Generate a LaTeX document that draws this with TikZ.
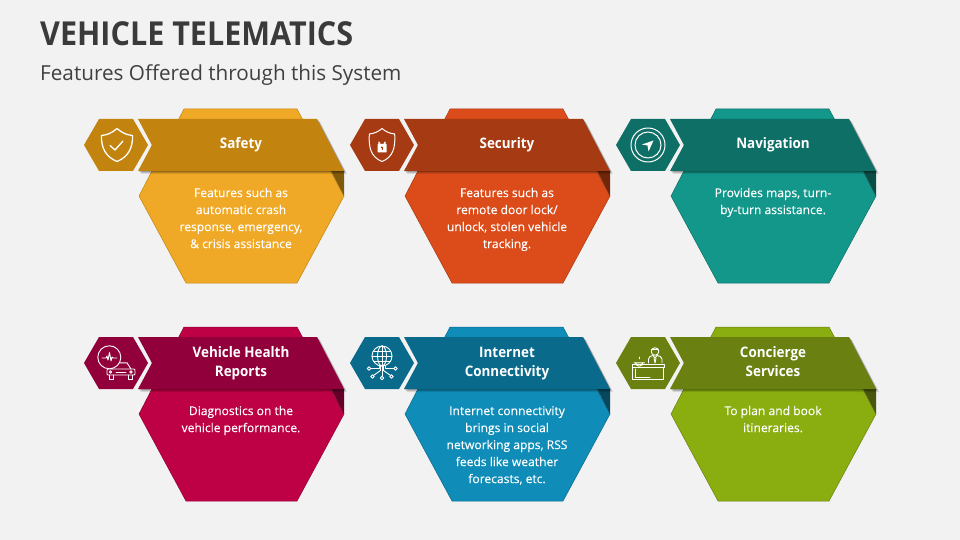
\documentclass[tikz,border=0pt]{standalone}
\usepackage{fontspec}
\setmainfont{Open Sans}
\newfontfamily\headfont[FakeStretch=.925]{Open Sans}
\newfontfamily\cardfont[FakeBold=.15]{Open Sans}
\definecolor{pagebg}{HTML}{F2F2F2}
\definecolor{ink}{HTML}{404040}
\definecolor{inkb}{HTML}{3A3A3A}
\definecolor{la}{HTML}{EFA926}\definecolor{da}{HTML}{C2830F}\definecolor{fa}{HTML}{7F5A0B}
\definecolor{lb}{HTML}{DC4C1A}\definecolor{db}{HTML}{A63A13}\definecolor{fb}{HTML}{702709}
\definecolor{lc}{HTML}{12978A}\definecolor{dc}{HTML}{0E6F66}\definecolor{fc}{HTML}{0A4C46}
\definecolor{ld}{HTML}{BE0044}\definecolor{dd}{HTML}{91003A}\definecolor{fd}{HTML}{630028}
\definecolor{le}{HTML}{0F8DB8}\definecolor{de}{HTML}{0A6A8B}\definecolor{fe}{HTML}{07485F}
\definecolor{lf}{HTML}{8AAE10}\definecolor{df}{HTML}{6A8010}\definecolor{ff}{HTML}{48570B}
\tikzset{
  titletext/.style={text=white,align=center,font=\headfont\fontsize{14.5}{19}\selectfont\bfseries,inner sep=0pt},
  bodytext/.style={text=white,align=center,anchor=north,font=\cardfont\fontsize{12.1}{17}\selectfont,inner sep=0pt},
  iconline/.style={draw=white,line width=1.3pt,line join=round,line cap=round,fill=none},
  thinline/.style={draw=white,line width=.9pt,line join=round,line cap=round,fill=none}
}
% #1 dx, #2 dy, #3 light, #4 dark, #5 fold, #6 name, #7 title, #8 body
\newcommand{\vcard}[8]{%
\begin{scope}[shift={(#1,#2)}]
  \filldraw[fill=#3,draw=#4,line width=.5pt,line join=round]
    (184,109)--(297,109)--(344,196)--(297,283)--(186,283)--(139,196)--cycle;
  \fill[#5] (331,171)--(344,171)--(344,196)--cycle;
  \foreach \s/\o in {3/.10,2/.14,1/.18}{
    \fill[black,opacity=\o] (138+\s,119+\s)--(317+\s,119+\s)--(344+\s,171+\s)--(138+\s,171+\s)--(152,145)--cycle;
  }
  \fill[#4] (138,119)--(317,119)--(344,171)--(138,171)--(152,145)--cycle;
  \fill[#4] (84,145)--(99,119)--(133,119)--(148,145)--(133,171)--(99,171)--cycle;
  \node[titletext] (#6title) at (241,145.2) {#7};
  \node[bodytext] (#6body) at (241,185) {\strut #8};
\end{scope}}
\begin{document}
\begin{tikzpicture}[x=1pt,y=-1pt]
\useasboundingbox (0,0) rectangle (960,540);
\fill[pagebg] (0,0) rectangle (960,540);
\node[anchor=base west,inner sep=0pt,text=inkb,font=\headfont\fontsize{33}{38}\selectfont\bfseries] (maintitle) at (40,46) {VEHICLE TELEMATICS};
\node[anchor=base west,inner sep=0pt,text=ink,font=\fontsize{20.7}{25}\selectfont] (subtitle) at (40,81) {Features Offered through this System};

\vcard{0}{0}{la}{da}{fa}{safety}{\strut Safety\strut}{Features such as\\automatic crash\\response, emergency,\\\& crisis assistance}
\vcard{266}{0}{lb}{db}{fb}{security}{\strut Security\strut}{Features such as\\remote door lock/\\unlock, stolen vehicle\\tracking.}
\vcard{532}{0}{lc}{dc}{fc}{navigation}{\strut Navigation\strut}{Provides maps, turn-\\by-turn assistance.}
\vcard{0}{218}{ld}{dd}{fd}{health}{\strut Vehicle Health\\\strut Reports}{Diagnostics on the\\vehicle performance.}
\vcard{266}{218}{le}{de}{fe}{internet}{\strut Internet\\\strut Connectivity}{Internet connectivity\\brings in social\\networking apps, RSS\\feeds like weather\\forecasts, etc.}
\vcard{532}{218}{lf}{df}{ff}{concierge}{\strut Concierge\\\strut Services}{To plan and book\\itineraries.}

% shield check
\draw[iconline] (117,128.5) .. controls (112,133) and (107,135) .. (101.5,135.5)
  .. controls (101,148) and (106,157) .. (117,161.5)
  .. controls (128,157) and (133,148) .. (132.5,135.5)
  .. controls (127,135) and (122,133) .. (117,128.5) -- cycle;
\draw[iconline] (110,145.5)--(115,150)--(123,141);

% shield lock
\draw[thinline,line width=1pt] (382,128.5) .. controls (378,132) and (374,133.5) .. (369.3,134)
  .. controls (368.5,148) and (371,157) .. (382,161.5)
  .. controls (393,157) and (395.5,148) .. (394.7,134)
  .. controls (390,133.5) and (386,132) .. (382,128.5) -- cycle;
\fill[white,rounded corners=.5pt] (377.5,144) rectangle (386.5,152.5);
\draw[thinline,line width=1.1pt] (379,144) -- (379,142) arc[start angle=180,end angle=0,radius=3] -- (385,144);
\fill[db] (382,147.5) circle[radius=1.1];
\fill[db] (381.5,147.5) rectangle (382.5,150.5);

% compass
\draw[thinline,line width=1pt] (648,145) circle[radius=17];
\draw[thinline,line width=1pt] (648,145) circle[radius=13];
\fill[white] (653.5,140.5)--(642,144.5)--(647.5,145.5)--(648.5,151.5)--cycle;

% health car
\draw[thinline] (112,369)--(116,362.8)--(127,362.8)--(131,369);
\draw[thinline,rounded corners=1pt] (107,369)--(135,369)--(135,375)--(107,375)--cycle;
\draw[thinline] (109.5,375)--(109.5,379.5)--(113.5,379.5)--(113.5,375);
\draw[thinline] (128.5,375)--(128.5,379.5)--(132.5,379.5)--(132.5,375);
\draw[thinline] (116,372)--(126,372);
\draw[thinline] (110.5,372) circle[radius=1.2];
\draw[thinline] (131,372) circle[radius=1.2];
\filldraw[fill=dd,draw=white,line width=.9pt] (109.3,357.3) circle[radius=11.5];
\draw[thinline] (102,358)--(106,358)--(107,356)--(108,360)--(109.5,352.5)--(111,361)--(112,357)--(113,358)--(117,358);

% globe network
\draw[thinline] (382,356) circle[radius=10];
\draw[thinline] (382,356) ellipse[x radius=4.5,y radius=10];
\draw[thinline] (382,346)--(382,366);
\draw[thinline] (372,356)--(392,356);
\draw[thinline] (373.5,351)--(390.5,351);
\draw[thinline] (373.5,361)--(390.5,361);
\coordinate (n1) at (369,368.5);\coordinate (n2) at (395.5,368.5);
\coordinate (n3) at (372.5,376.5);\coordinate (n4) at (382,378);\coordinate (n5) at (391.5,376.5);
\draw[thinline] (n1)+(1.7,0) -- (379,368.5)--(379,366.5);
\draw[thinline] (n2)+(-1.7,0) -- (385,368.5)--(385,366.5);
\draw[thinline] (n3)+(1.2,-1.2) -- (380.5,370.5)--(380.5,366);
\draw[thinline] (n4)+(0,-1.7) -- (382,366);
\draw[thinline] (n5)+(-1.2,-1.2) -- (383.5,370.5)--(383.5,366);
\foreach \n in {n1,n2,n3,n4,n5}{\draw[thinline] (\n) circle[radius=1.7];}

% concierge desk
\draw[thinline] (632,364.5)--(664,364.5)--(664,367)--(632,367)--cycle;
\draw[thinline] (632.5,367)--(632.5,379)--(663.5,379)--(663.5,367);
\draw[thinline] (635,369)--(635,377);
\draw[thinline] (635,377)--(650,377);
\draw[thinline] (635.5,362.5) arc[start angle=180,end angle=0,radius=3.7] (634,362.8)--(644.5,362.8);
\draw[thinline] (639.2,358.8)--(639.2,357);
\draw[thinline] (648.5,363)--(648.5,359) .. controls (648.5,356.5) and (651,356) .. (653,355.5)
   -- (655,358) -- (657,355.5) .. controls (659,356) and (662,356.5) .. (662,359) -- (662,363);
\draw[thinline] (655,351.5) circle[radius=3.8];
\draw[thinline] (651.5,349)--(658.5,349);
\draw[thinline] (654,358)--(655,363)--(656,358);
\end{tikzpicture}
\end{document}
